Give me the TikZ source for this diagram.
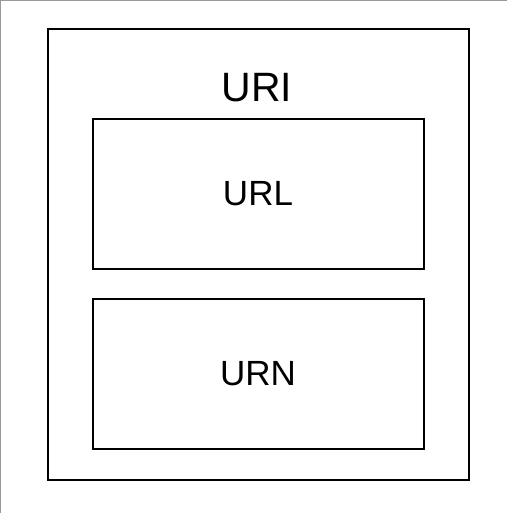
\documentclass[tikz,border=0pt]{standalone}
\usepackage{fontspec}
\setmainfont{Liberation Sans}
\begin{document}
\begin{tikzpicture}[x=1pt,y=-1pt,
  box/.style={draw=black,line width=2pt},
  lbl/.style={inner sep=0pt,anchor=center}]
\useasboundingbox (0,0) rectangle (507,513);
\fill[white] (0,0) rectangle (507,513);
\draw[gray!80,line width=1pt] (0.5,513) -- (0.5,0.5) -- (507,0.5);
\draw[box] (48,29) rectangle (469,480);
\draw[box] (93,119) rectangle (424,269);
\draw[box] (93,299) rectangle (424,449);
\node[lbl,font=\fontsize{41}{41}\selectfont] (uri) at (257,88) {\vphantom{U}URI};
\node[lbl,font=\fontsize{35}{35}\selectfont] (url) at (258,194) {\vphantom{U}URL};
\node[lbl,font=\fontsize{35}{35}\selectfont] (urn) at (258,374) {\vphantom{U}URN};
\end{tikzpicture}
\end{document}
